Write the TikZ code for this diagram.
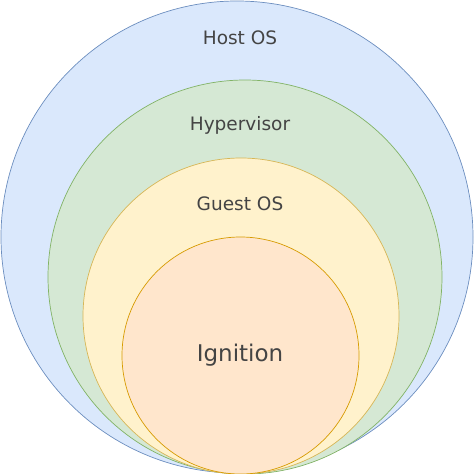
\documentclass[tikz,border=0pt]{standalone}
\usepackage{fontspec}
\setmainfont{DejaVu Sans}
\definecolor{hostfill}{HTML}{DAE8FC}
\definecolor{hostline}{HTML}{6C8EBF}
\definecolor{hypfill}{HTML}{D5E8D4}
\definecolor{hypline}{HTML}{82B366}
\definecolor{guestfill}{HTML}{FFF2CC}
\definecolor{guestline}{HTML}{D6B656}
\definecolor{ignfill}{HTML}{FFE6CC}
\definecolor{ignline}{HTML}{D79B00}
\definecolor{labeltext}{HTML}{444444}
\begin{document}
\begin{tikzpicture}[
					x=1pt,y=-1pt,
					layer/.style={circle,draw,line width=0.7pt,inner sep=0pt},
					ltext/.style={text=labeltext,inner sep=0pt,font=\fontsize{18.5}{22}\selectfont}
					]
					\useasboundingbox (0,0) rectangle (474,474);
					\node[layer,fill=hostfill,draw=hostline,minimum size=472pt] (host) at (237,237) {};
					\node[layer,fill=hypfill,draw=hypline,minimum size=394pt] (hyp) at (245,277) {};
					\node[layer,fill=guestfill,draw=guestline,minimum size=316pt] (guest) at (241,316) {};
					\node[layer,fill=ignfill,draw=ignline,minimum size=237pt] (ign) at (240.5,355.5) {};
					\node[ltext] (hostlbl) at (240,38) {Host OS};
					\node[ltext] (hyplbl) at (240,125) {Hypervisor};
					\node[ltext] (guestlbl) at (240,204) {Guest OS};
					\node[ltext,font=\fontsize{23}{28}\selectfont] (ignlbl) at (240,355) {Ignition};
				\end{tikzpicture}
\end{document}
